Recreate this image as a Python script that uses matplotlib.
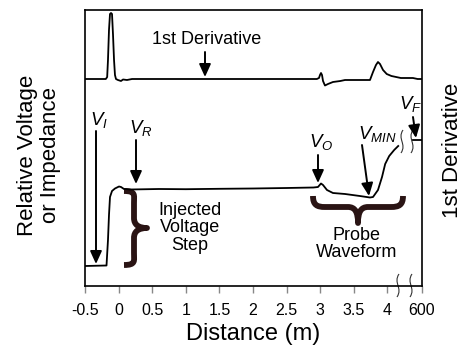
import matplotlib
matplotlib.use('Agg')
import matplotlib.pyplot as plt
from matplotlib.path import Path
from matplotlib.patches import PathPatch

plt.rcParams['font.family'] = ['Liberation Sans', 'DejaVu Sans']
plt.rcParams['mathtext.fontset'] = 'custom'
plt.rcParams['mathtext.it'] = 'Liberation Sans:italic'
plt.rcParams['mathtext.rm'] = 'Liberation Sans'

# ---------------- data ----------------
tick_pos = [-0.5, 0, 0.5, 1, 1.5, 2, 2.5, 3, 3.5, 4, 4.515]
tick_labels = ['-0.5', '0', '0.5', '1', '1.5', '2', '2.5', '3', '3.5', '4', '600']

# TDR waveform (relative voltage), before the axis break
wave_x = [-0.5, -0.18, -0.158, -0.143, -0.128, -0.098, -0.054, 0.006, 0.036, 0.08,
          0.17, 0.6, 1.0, 1.5, 2.0, 2.5, 2.9, 2.967, 3.012, 3.042, 3.101, 3.19,
          3.37, 3.59, 3.74, 3.786, 3.86, 3.92, 3.967, 4.027, 4.101, 4.161]
wave_y = [20, 20.5, 46, 71, 89, 95, 97.5, 99.5, 99, 97,
          96.5, 97, 96.8, 97.2, 97.5, 98, 98.5, 99, 102.5, 101, 96, 93,
          92, 90, 88.5, 89, 96, 109, 122, 130, 136, 140]
# waveform after the break (far end, ~600 m)
wave_tail_x = [4.38, 4.515]
wave_tail_y = [146, 146]

# first derivative trace
deriv_x = [-0.5, -0.19, -0.17, -0.158, -0.143, -0.128, -0.113, -0.098, -0.083, -0.068,
           -0.054, -0.039, -0.01, 0.036, 0.066, 0.125, 0.2, 1.0, 2.0, 2.95, 2.982,
           2.997, 3.012, 3.027, 3.042, 3.071, 3.116, 3.19, 3.3, 3.369, 3.6, 3.741,
           3.786, 3.83, 3.86, 3.89, 3.935, 3.99, 4.06, 4.2, 4.38, 4.45, 4.515]
deriv_y = [207, 207, 209, 226, 256, 272, 273, 272, 251, 226,
           211, 207, 206, 205, 206.5, 206, 207, 207, 207, 207, 208,
           211, 213, 211, 205, 200.5, 202, 204, 205, 206, 206, 206,
           214, 221, 224, 222, 216, 212, 210, 208, 208, 207, 207]

# ---------------- figure ----------------
W, H = 474, 352
fig = plt.figure(figsize=(W / 100, H / 100), dpi=100)
L, R, T, B = 85, 422, 10, 286
ax = fig.add_axes([L / W, 1 - B / H, (R - L) / W, (B - T) / H])
ax.set_xlim(-0.5, 4.515)
ax.set_ylim(0, 276)

def X(px):
    return -0.5 + (px - L) / 67.2

def Y(py):
    return B - py

ax.plot(wave_x, wave_y, color='black', lw=1.3, solid_joinstyle='round')
ax.plot(wave_tail_x, wave_tail_y, color='black', lw=1.3)
ax.plot(deriv_x, deriv_y, color='black', lw=1.3, solid_joinstyle='round')

for s in ax.spines.values():
    s.set_linewidth(1.2)
ax.set_yticks([])
ax.set_xticks(tick_pos)
ax.set_xticklabels(tick_labels, fontsize=11.5)
ax.tick_params(axis='x', direction='out', length=5, width=1, color='#888888', pad=7)
ax.set_xlabel('Distance (m)', fontsize=17, labelpad=4)

fig.text(39 / W, 1 - 155 / H, 'Relative Voltage\nor Impedance', rotation=90,
         ha='center', va='center', fontsize=16, linespacing=1.15)
fig.text(453 / W, 1 - 150 / H, '1st Derivative', rotation=90,
         ha='center', va='center', fontsize=16)

def arrow(x0, y0, x1, y1):
    ax.annotate('', xy=(X(x1), Y(y1)), xytext=(X(x0), Y(y0)),
                arrowprops=dict(arrowstyle='-|>,head_length=0.55,head_width=0.25',
                                color='black', lw=1.4, mutation_scale=14,
                                shrinkA=0, shrinkB=0))

# labels and arrows
ax.text(X(207), Y(40), '1st Derivative', ha='center', va='center', fontsize=13)
arrow(205, 52, 205, 77)
ax.text(X(99), Y(120), r'$V_I$', ha='center', va='center', fontsize=13.5)
arrow(96, 131, 96, 264)
ax.text(X(141), Y(128), r'$V_R$', ha='center', va='center', fontsize=13.5)
arrow(136, 140, 136, 184)
ax.text(X(321), Y(142), r'$V_O$', ha='center', va='center', fontsize=13.5)
arrow(318, 155, 318, 183)
ax.text(X(377), Y(134), r'$V_{MIN}$', ha='center', va='center', fontsize=13.5)
arrow(362, 145, 369, 196)
ax.text(X(411), Y(104), r'$V_F$', ha='center', va='center', fontsize=13.5)
arrow(413, 117, 416, 138)

ax.text(X(190), Y(228), 'Injected\nVoltage\nStep', ha='center', va='center',
        fontsize=13, linespacing=1.05)
ax.text(X(357), Y(244), 'Probe\nWaveform', ha='center', va='center',
        fontsize=13, linespacing=1.05)

brace_color = '#2a1414'

def vbrace(x0, xs, x1, yt, yb):
    ym = (yt + yb) / 2
    pts = [(x0, yt), (xs + 2, yt), (xs, yt + 4), (xs, yt + 12),
           (xs, ym - 10),
           (xs, ym - 3), (xs + 5, ym), (x1, ym),
           (xs + 5, ym), (xs, ym + 3), (xs, ym + 10),
           (xs, yb - 12),
           (xs, yb - 4), (xs + 2, yb), (x0, yb)]
    codes = [Path.MOVETO, Path.CURVE4, Path.CURVE4, Path.CURVE4, Path.LINETO,
             Path.CURVE4, Path.CURVE4, Path.CURVE4, Path.CURVE4, Path.CURVE4,
             Path.CURVE4, Path.LINETO, Path.CURVE4, Path.CURVE4, Path.CURVE4]
    p = Path([(X(a), Y(b)) for a, b in pts], codes)
    ax.add_patch(PathPatch(p, fill=False, lw=4.2, color=brace_color,
                           capstyle='butt', joinstyle='round'))

def hbrace(xl, xr, y0, ys, y1):
    xm = (xl + xr) / 2
    pts = [(xl, y0), (xl, ys - 2), (xl + 4, ys), (xl + 12, ys),
           (xm - 10, ys),
           (xm - 3, ys), (xm, ys + 5), (xm, y1),
           (xm, ys + 5), (xm + 3, ys), (xm + 10, ys),
           (xr - 12, ys),
           (xr - 4, ys), (xr, ys - 2), (xr, y0)]
    codes = [Path.MOVETO, Path.CURVE4, Path.CURVE4, Path.CURVE4, Path.LINETO,
             Path.CURVE4, Path.CURVE4, Path.CURVE4, Path.CURVE4, Path.CURVE4,
             Path.CURVE4, Path.LINETO, Path.CURVE4, Path.CURVE4, Path.CURVE4]
    p = Path([(X(a), Y(b)) for a, b in pts], codes)
    ax.add_patch(PathPatch(p, fill=False, lw=4.2, color=brace_color,
                           capstyle='butt', joinstyle='round'))

vbrace(124, 134, 147, 191, 265)
hbrace(313, 403, 196, 207, 223)

def squiggle(x, y0, y1):
    pts = [(x + 1, y0), (x - 5, y0 + 9), (x + 5, y1 - 9), (x - 1, y1)]
    codes = [Path.MOVETO, Path.CURVE4, Path.CURVE4, Path.CURVE4]
    p = Path([(X(a), Y(b)) for a, b in pts], codes)
    ax.add_patch(PathPatch(p, fill=False, lw=0.8, color='#333333', clip_on=False))

squiggle(402, 130, 153)
squiggle(412, 130, 153)
squiggle(398, 274, 297)
squiggle(411, 274, 297)

fig.savefig('out.png', dpi=100)
